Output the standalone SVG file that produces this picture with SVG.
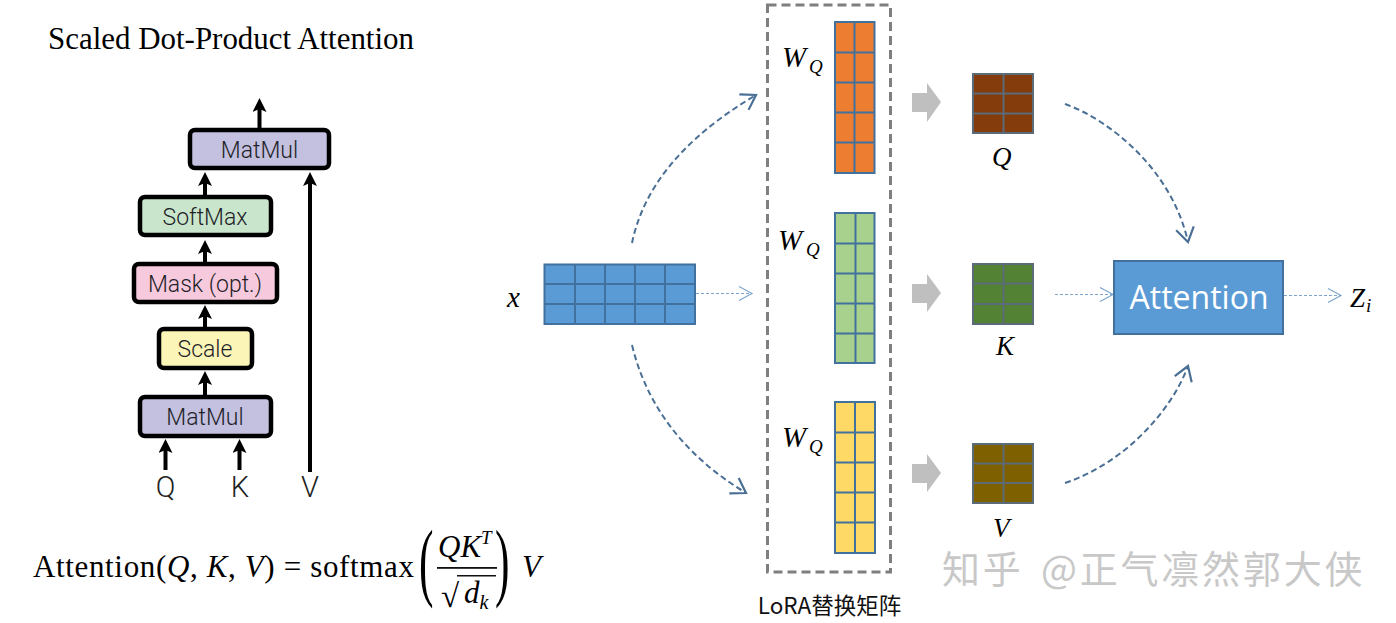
<svg xmlns="http://www.w3.org/2000/svg" width="1396" height="623" viewBox="0 0 1396 623">
<style>
.bk{fill:none;stroke:#000;stroke-width:4}
.fl{font-family:Roboto,"Liberation Sans",sans-serif;font-weight:300;font-size:23px;text-anchor:middle;fill:#1f1f28}
.ln{font-family:Roboto,"Liberation Sans",sans-serif;font-weight:300;font-size:29px;text-anchor:middle;fill:#222}
.box{stroke:#000;stroke-width:4.500}
.m{font-family:"Liberation Serif",serif;fill:#000}
.i{font-style:italic}
.gl{stroke:#41719c;stroke-width:2;fill:none}
.gd{stroke:#5b6b78;stroke-width:2;fill:none}
.thick{fill:none;stroke:#4a6f94;stroke-width:2;stroke-dasharray:6 3.500}
.thin{fill:none;stroke:#7ea6cc;stroke-width:1.200;stroke-dasharray:3 2}
.blk{fill:#bfbfbf}
</style>
<defs>
<marker id="ab" markerUnits="userSpaceOnUse" markerWidth="16" markerHeight="16" refX="9" refY="7" orient="auto"><path d="M0 0L14 7L0 14L3 7Z" fill="#000"/></marker>
<marker id="ao" markerUnits="userSpaceOnUse" markerWidth="20" markerHeight="24" refX="16" refY="10" orient="auto"><path d="M2 1L16 10L2 19" fill="none" stroke="#4a6f94" stroke-width="2.200"/></marker>
<marker id="at" markerUnits="userSpaceOnUse" markerWidth="20" markerHeight="24" refX="15" refY="8" orient="auto"><path d="M2 1L15 8L2 15" fill="none" stroke="#7ea6cc" stroke-width="1.200"/></marker>
</defs>
<rect width="1396" height="623" fill="#fff"/>

<text id="title" x="48" y="49" class="m" font-size="31" textLength="366" lengthAdjust="spacingAndGlyphs">Scaled Dot-Product Attention</text>

<g id="connectors">
<path class="bk" d="M259.500 128V103" marker-end="url(#ab)"/>
<path class="bk" d="M205 195V177" marker-end="url(#ab)"/>
<path class="bk" d="M205 262V245" marker-end="url(#ab)"/>
<path class="bk" d="M205 328V310" marker-end="url(#ab)"/>
<path class="bk" d="M205 395V376" marker-end="url(#ab)"/>
<path class="bk" d="M165.500 470V444" marker-end="url(#ab)"/>
<path class="bk" d="M239.500 470V444" marker-end="url(#ab)"/>
<path class="bk" d="M310 472V177" marker-end="url(#ab)"/>
<path class="thick" d="M632 243C643 190 680 140 756 95" marker-end="url(#ao)"/>
<path class="thick" d="M632 345C650 420 700 465 746 493" marker-end="url(#ao)"/>
<path class="thick" d="M1065 104C1110 120 1172 170 1188 242" marker-end="url(#ao)"/>
<path class="thick" d="M1065 483C1125 463 1172 410 1188 366" marker-end="url(#ao)"/>
<path class="thin" d="M696 293.500H752" marker-end="url(#at)"/>
<path class="thin" d="M1055 294.500H1113" marker-end="url(#at)"/>
<path class="thin" d="M1284 295.500H1341" marker-end="url(#at)"/>
<path class="blk" d="M912 93H927V83L941 102L927 122V112H912Z"/>
<path class="blk" d="M912 284H927V274L941 293L927 312V303H912Z"/>
<path class="blk" d="M912 464H927V454L941 473L927 492V483H912Z"/>
</g>

<g id="matmul-top"><rect class="box" x="190" y="130" width="139" height="38" rx="5" fill="#c3c0e0"/><text class="fl" x="259.500" y="158">MatMul</text></g>
<g id="softmax"><rect class="box" x="140" y="197" width="131" height="38" rx="5" fill="#c9e6cc"/><text class="fl" x="205" y="225">SoftMax</text></g>
<g id="mask"><rect class="box" x="134" y="264" width="143" height="38" rx="5" fill="#f7c9dd"/><text class="fl" x="205" y="292">Mask (opt.)</text></g>
<g id="scale"><rect class="box" x="159" y="329" width="93" height="39" rx="5" fill="#fbf5b8"/><text class="fl" x="205" y="357">Scale</text></g>
<g id="matmul-bottom"><rect class="box" x="140" y="397" width="131" height="39" rx="5" fill="#c3c0e0"/><text class="fl" x="205" y="425">MatMul</text></g>
<g id="label-q"><text class="ln" x="165.500" y="497">Q</text></g>
<g id="label-k"><text class="ln" x="240" y="497">K</text></g>
<g id="label-v"><text class="ln" x="310" y="497">V</text></g>

<g id="formula">
<text class="m" x="33" y="577" font-size="31" textLength="381" lengthAdjust="spacing">Attention(<tspan class="i">Q</tspan>, <tspan class="i">K</tspan>, <tspan class="i">V</tspan>) = softmax</text>
<text class="m" font-size="29" transform="translate(419 590) scale(1.500 3)">(</text>
<text class="m i" x="438" y="557" font-size="31">QK<tspan font-size="19" dy="-13">T</tspan></text>
<rect x="437" y="567" width="60" height="1.800" fill="#111"/>
<text class="m" x="441" y="607" font-size="33">√</text>
<rect x="457" y="575" width="39" height="1.500" fill="#111"/>
<text class="m i" x="464" y="603" font-size="31">d<tspan font-size="20" dy="6">k</tspan></text>
<text class="m" font-size="29" transform="translate(495 590) scale(1.500 3)">)</text>
<text class="m i" x="522" y="577" font-size="31">V</text>
</g>

<g id="input-x">
<text class="m i" x="507" y="307" font-size="29">x</text>
<rect x="544" y="264" width="151" height="60" fill="#5b9bd5"/>
<path class="gl" d="M544.500 264.500H695V324H544.500ZM544 284H695M544 304H695M575 264V324M605 264V324M635 264V324M665 264V324"/>
</g>

<g id="lora-box">
<rect x="767.500" y="5" width="123" height="567" fill="none" stroke="#7f7f7f" stroke-width="3" stroke-dasharray="9 5"/>
<text x="829.500" y="614" font-family="'Noto Sans CJK SC','Noto Sans',sans-serif" font-size="22.500" text-anchor="middle" fill="#111">LoRA替换矩阵</text>
</g>

<g id="wq-orange">
<text class="m i" x="782" y="67" font-size="29">W</text><text class="m i" x="809" y="73" font-size="19">Q</text>
<rect x="835" y="22" width="39.500" height="151" fill="#ed7d31"/>
<path class="gl" d="M835 22H874.500V173H835ZM835 52.500H874.500M835 82.500H874.500M835 112.500H874.500M835 142.500H874.500M854.500 22V173"/>
</g>
<g id="wq-green">
<text class="m i" x="778" y="250" font-size="29">W</text><text class="m i" x="806" y="256" font-size="19">Q</text>
<rect x="835" y="213" width="39.500" height="150" fill="#a9d18e"/>
<path class="gl" d="M835 213H874.500V363H835ZM835 243.500H874.500M835 273.500H874.500M835 303.500H874.500M835 333.500H874.500M855.500 213V363"/>
</g>
<g id="wq-yellow">
<text class="m i" x="782" y="447" font-size="29">W</text><text class="m i" x="809" y="453" font-size="19">Q</text>
<rect x="835" y="402" width="40" height="151" fill="#ffd966"/>
<path class="gl" d="M835 402H875V553H835ZM835 432.500H875M835 462.500H875M835 492.500H875M835 522.500H875M855 402V553"/>
</g>

<g id="q-matrix">
<rect x="973" y="74" width="60" height="59" fill="#843c0c"/>
<path class="gd" d="M973 74H1033V133H973ZM973 93.500H1033M973 113.500H1033M1003.500 74V133"/>
<text class="m i" x="992" y="166" font-size="27">Q</text>
</g>
<g id="k-matrix">
<rect x="973" y="264" width="60" height="60" fill="#548235"/>
<path class="gd" d="M973 264H1033V324H973ZM973 283.500H1033M973 304H1033M1003.500 264V324"/>
<text class="m i" x="996" y="355" font-size="27">K</text>
</g>
<g id="v-matrix">
<rect x="973" y="444" width="60" height="59" fill="#7f6000"/>
<path class="gd" d="M973 444H1033V503H973ZM973 463.500H1033M973 483H1033M1003.500 444V503"/>
<text class="m i" x="993" y="537" font-size="27">V</text>
</g>

<g id="attention">
<rect x="1114" y="261" width="169" height="73" fill="#5b9bd5" stroke="#41719c" stroke-width="2"/>
<text x="1199" y="309" font-family="'Open Sans','Noto Sans',sans-serif" font-size="32" text-anchor="middle" fill="#fff">Attention</text>
</g>
<g id="output-z">
<text class="m i" x="1350" y="307" font-size="27">Z</text><text class="m i" x="1366" y="312" font-size="19">i</text>
</g>

<text id="watermark" x="942" y="583" font-family="'Noto Sans CJK SC','Noto Sans',sans-serif" font-size="38" letter-spacing="2.800" fill="#c8c8c8">知乎 <tspan dx="6">@正气凛然郭大侠</tspan></text>
</svg>
